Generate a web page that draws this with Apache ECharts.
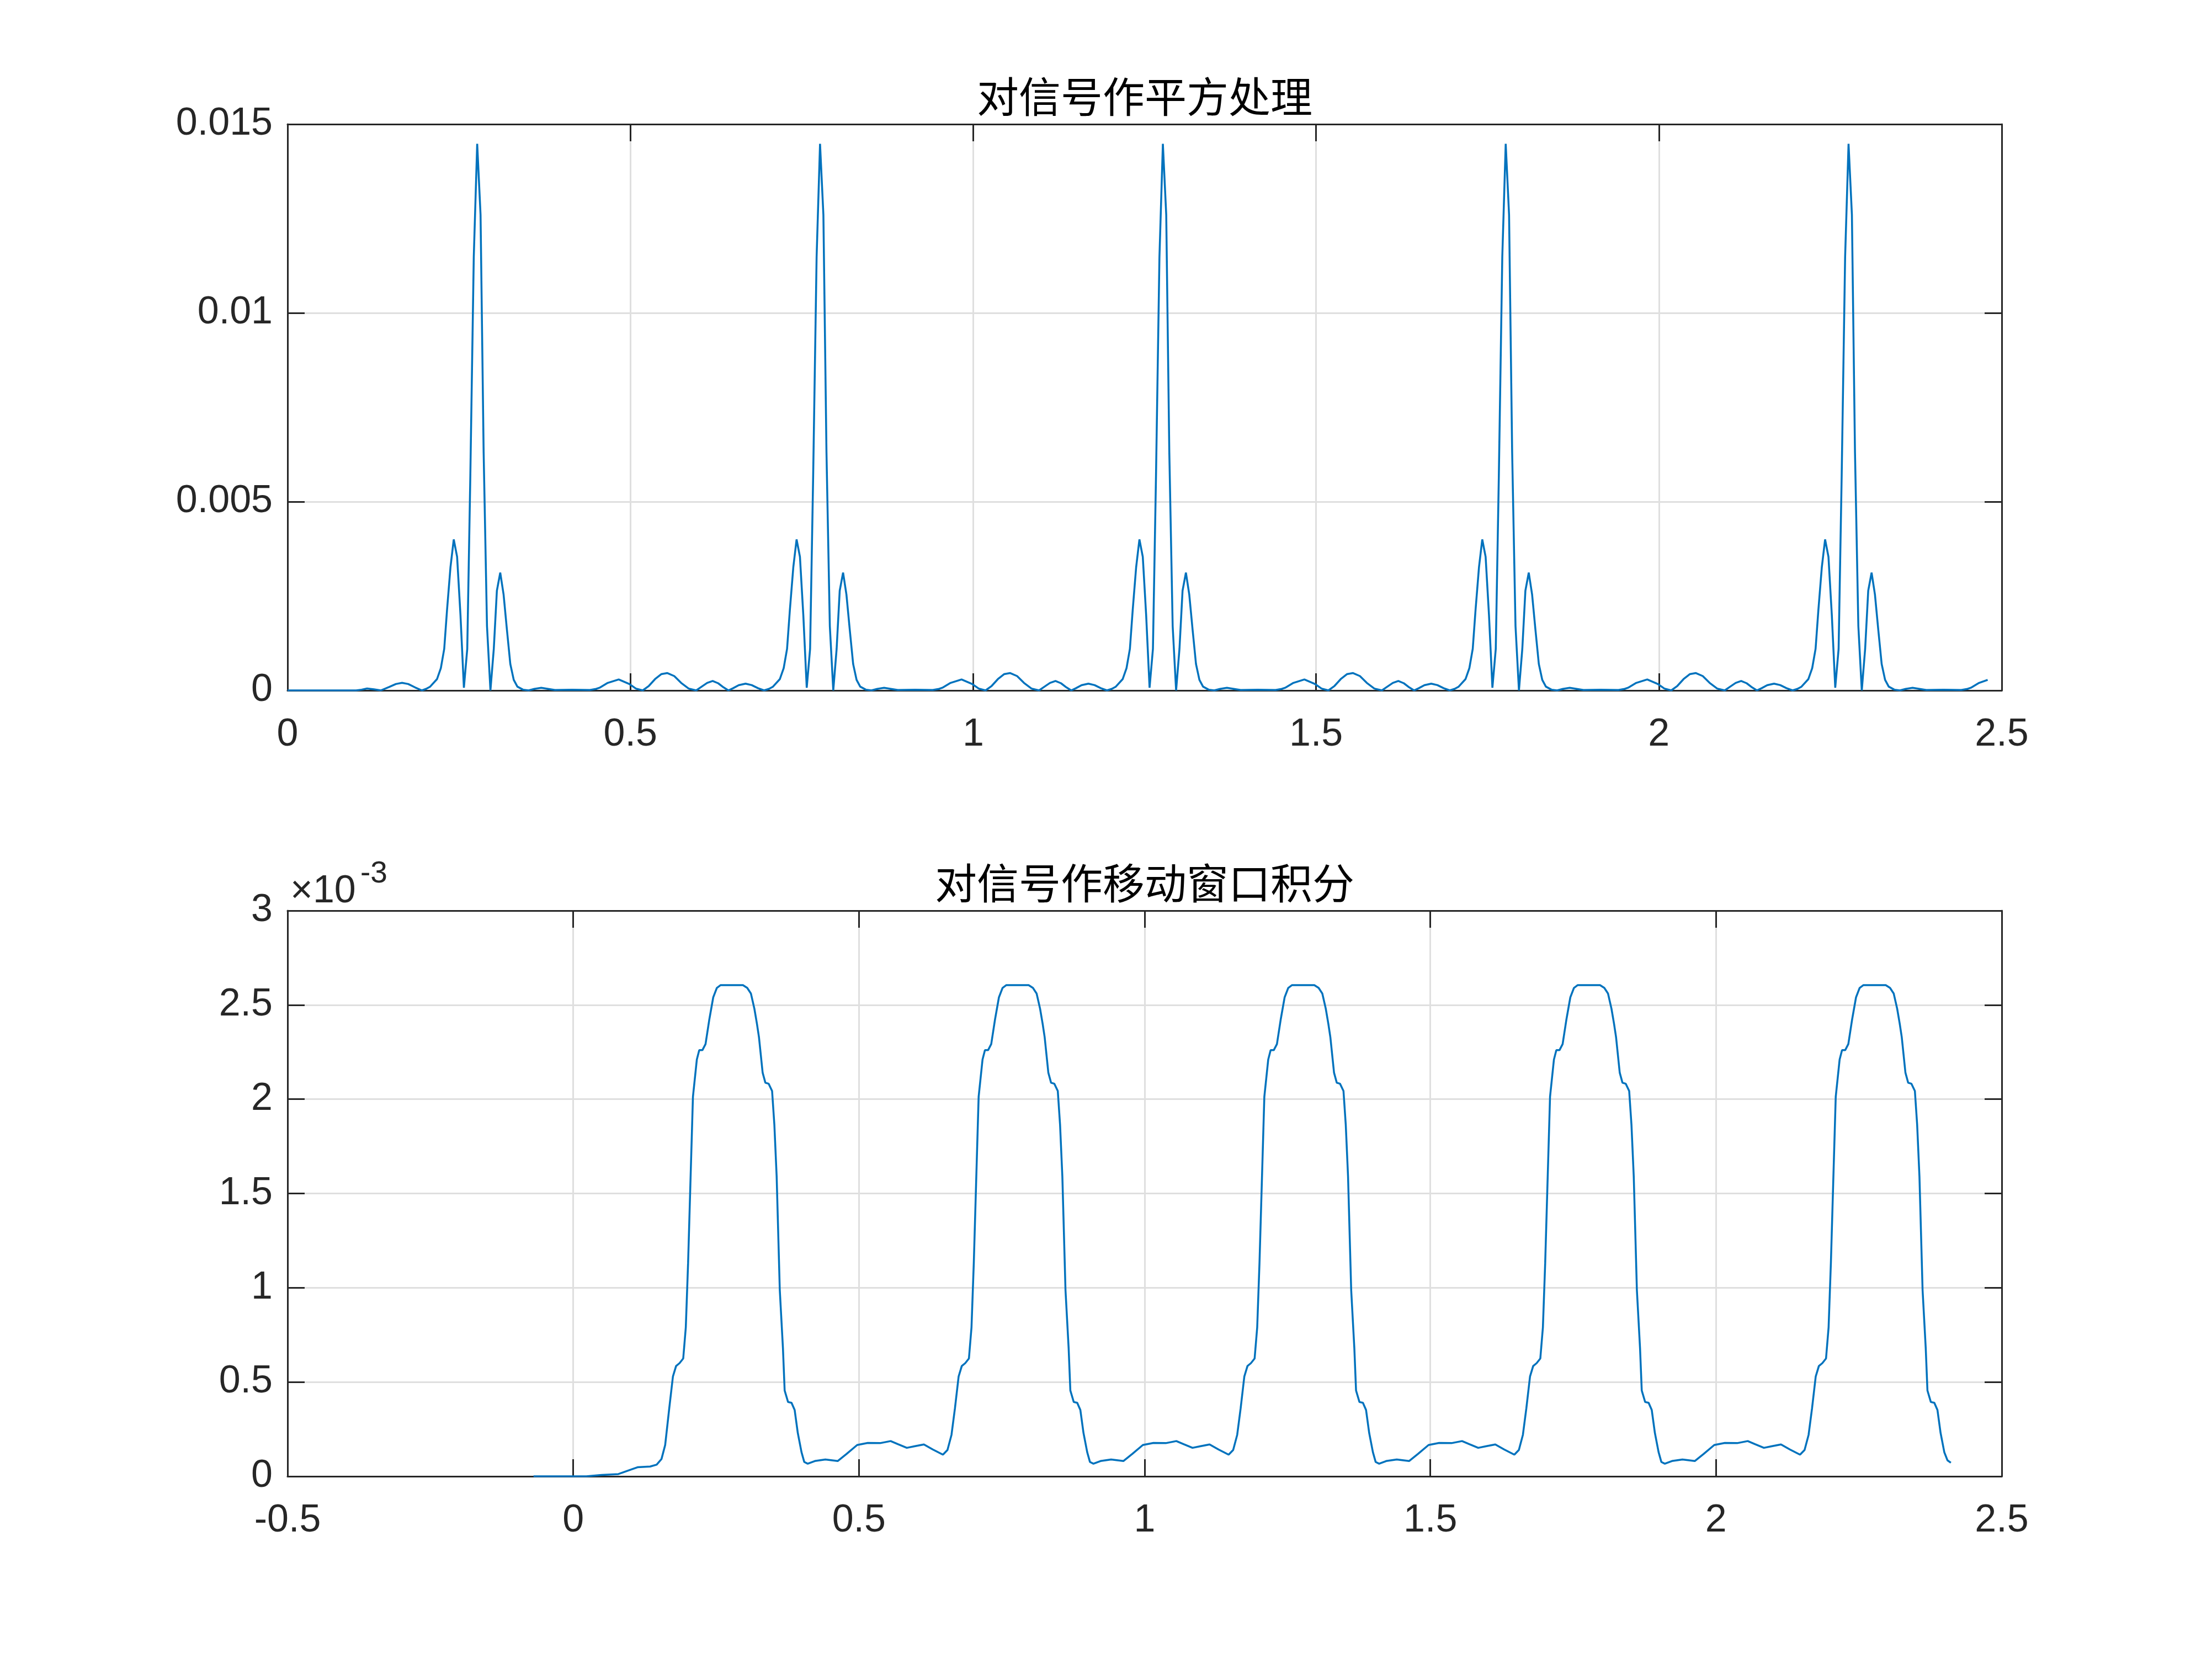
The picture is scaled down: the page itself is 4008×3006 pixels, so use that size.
<!DOCTYPE html>
<html>
<head>
<meta charset="utf-8">
<script src="https://cdn.jsdelivr.net/npm/echarts@6/dist/echarts.min.js"></script>
<style>html,body{margin:0;padding:0;background:#fff;}#chart{width:4008px;height:3006px;}</style>
</head>
<body>
<div id="chart"></div>
<script>
// ---------- data ----------
const titles = ['对信号作平方处理', '对信号作移动窗口积分'];
const topXLabels = ['0', '0.5', '1', '1.5', '2', '2.5'];
const topYLabels = ['0', '0.005', '0.01', '0.015'];
const bottomXLabels = ['-0.5', '0', '0.5', '1', '1.5', '2', '2.5'];
const bottomYLabels = ['0', '0.5', '1', '1.5', '2', '2.5', '3'];
const bottomScaleText = ['×10', '-3'];

// squared signal [time, value]
const squaredBeat1 = [[0,0],[0.1,0],[0.108,0.00002],[0.116,0.00005],[0.126,0.00003],[0.136,0],[0.148,0.00009],[0.158,0.00017],[0.167,0.0002],[0.176,0.00017],[0.186,0.00008],[0.196,0],
[0.202,0.00004],[0.208,0.0001],[0.218,0.0003],[0.2236,0.00059],[0.2285,0.0011],[0.2326,0.00213],[0.2376,0.00326],[0.2424,0.004],[0.2473,0.00354],[0.2522,0.002],[0.2572,0.00007],[0.2621,0.0011],[0.2666,0.0057],[0.2716,0.01148],[0.2766,0.01448],[0.2815,0.0126],[0.286,0.0063],[0.2909,0.0017],[0.2959,0],[0.3008,0.0011],[0.3053,0.00264],[0.3102,0.00312],[0.3151,0.00254],[0.32,0.0016],[0.3249,0.0007],[0.3299,0.00028],[0.3352,0.0001],[0.3434,0.00002],[0.3516,0],[0.36,0.00004],[0.37,0.00007],[0.38,0.00004],[0.39,0.00001],[0.415,0.00002]];
const squaredBeat2 = [[0.441,0.00001],[0.45,0.00004],[0.455,0.00007],[0.467,0.0002],[0.483,0.00029],[0.498,0.000175],[0.508,0.00005],[0.518,0],[0.527,0.00012],[0.536,0.0003],[0.545,0.00043],[0.554,0.00046],[0.564,0.00038],[0.574,0.0002],[0.585,0.00005],[0.596,0],[0.604,0.0001],[0.612,0.0002],[0.62,0.00025],[0.628,0.00019],[0.636,0.00008],[0.643,0],[0.65,0.00006],[0.658,0.00014],[0.668,0.00018],[0.677,0.00014],[0.686,0.00006],[0.695,0],
[0.702,0.00004],[0.708,0.0001],[0.718,0.0003],[0.7236,0.00059],[0.7285,0.0011],[0.7326,0.00213],[0.7376,0.00326],[0.7424,0.004],[0.7473,0.00354],[0.7522,0.002],[0.7572,0.00007],[0.7621,0.0011],[0.7666,0.0057],[0.7716,0.01148],[0.7766,0.01448],[0.7815,0.0126],[0.786,0.0063],[0.7909,0.0017],[0.7959,0],[0.8008,0.0011],[0.8053,0.00264],[0.8102,0.00312],[0.8151,0.00254],[0.82,0.0016],[0.8249,0.0007],[0.8299,0.00028],[0.8352,0.0001],[0.8434,0.00002],[0.8516,0],[0.86,0.00004],[0.87,0.00007],[0.88,0.00004],[0.89,0.00001],[0.915,0.00002]];
const squaredBeat3 = [[0.941,0.00001],[0.95,0.00004],[0.955,0.00007],[0.967,0.0002],[0.983,0.00029],[0.998,0.000175],[1.008,0.00005],[1.018,0],[1.027,0.00012],[1.036,0.0003],[1.045,0.00043],[1.054,0.00046],[1.064,0.00038],[1.074,0.0002],[1.085,0.00005],[1.096,0],[1.104,0.0001],[1.112,0.0002],[1.12,0.00025],[1.128,0.00019],[1.136,0.00008],[1.143,0],[1.15,0.00006],[1.158,0.00014],[1.168,0.00018],[1.177,0.00014],[1.186,0.00006],[1.195,0],
[1.202,0.00004],[1.208,0.0001],[1.218,0.0003],[1.2236,0.00059],[1.2285,0.0011],[1.2326,0.00213],[1.2376,0.00326],[1.2424,0.004],[1.2473,0.00354],[1.2522,0.002],[1.2572,0.00007],[1.2621,0.0011],[1.2666,0.0057],[1.2716,0.01148],[1.2766,0.01448],[1.2815,0.0126],[1.286,0.0063],[1.2909,0.0017],[1.2959,0],[1.3008,0.0011],[1.3053,0.00264],[1.3102,0.00312],[1.3151,0.00254],[1.32,0.0016],[1.3249,0.0007],[1.3299,0.00028],[1.3352,0.0001],[1.3434,0.00002],[1.3516,0],[1.36,0.00004],[1.37,0.00007],[1.38,0.00004],[1.39,0.00001],[1.415,0.00002]];
const squaredBeat4 = [[1.441,0.00001],[1.45,0.00004],[1.455,0.00007],[1.467,0.0002],[1.483,0.00029],[1.498,0.000175],[1.508,0.00005],[1.518,0],[1.527,0.00012],[1.536,0.0003],[1.545,0.00043],[1.554,0.00046],[1.564,0.00038],[1.574,0.0002],[1.585,0.00005],[1.596,0],[1.604,0.0001],[1.612,0.0002],[1.62,0.00025],[1.628,0.00019],[1.636,0.00008],[1.643,0],[1.65,0.00006],[1.658,0.00014],[1.668,0.00018],[1.677,0.00014],[1.686,0.00006],[1.695,0],
[1.702,0.00004],[1.708,0.0001],[1.718,0.0003],[1.7236,0.00059],[1.7285,0.0011],[1.7326,0.00213],[1.7376,0.00326],[1.7424,0.004],[1.7473,0.00354],[1.7522,0.002],[1.7572,0.00007],[1.7621,0.0011],[1.7666,0.0057],[1.7716,0.01148],[1.7766,0.01448],[1.7815,0.0126],[1.786,0.0063],[1.7909,0.0017],[1.7959,0],[1.8008,0.0011],[1.8053,0.00264],[1.8102,0.00312],[1.8151,0.00254],[1.82,0.0016],[1.8249,0.0007],[1.8299,0.00028],[1.8352,0.0001],[1.8434,0.00002],[1.8516,0],[1.86,0.00004],[1.87,0.00007],[1.88,0.00004],[1.89,0.00001],[1.915,0.00002]];
const squaredBeat5 = [[1.941,0.00001],[1.95,0.00004],[1.955,0.00007],[1.967,0.0002],[1.983,0.00029],[1.998,0.000175],[2.008,0.00005],[2.018,0],[2.027,0.00012],[2.036,0.0003],[2.045,0.00043],[2.054,0.00046],[2.064,0.00038],[2.074,0.0002],[2.085,0.00005],[2.096,0],[2.104,0.0001],[2.112,0.0002],[2.12,0.00025],[2.128,0.00019],[2.136,0.00008],[2.143,0],[2.15,0.00006],[2.158,0.00014],[2.168,0.00018],[2.177,0.00014],[2.186,0.00006],[2.195,0],
[2.202,0.00004],[2.208,0.0001],[2.218,0.0003],[2.2236,0.00059],[2.2285,0.0011],[2.2326,0.00213],[2.2376,0.00326],[2.2424,0.004],[2.2473,0.00354],[2.2522,0.002],[2.2572,0.00007],[2.2621,0.0011],[2.2666,0.0057],[2.2716,0.01148],[2.2766,0.01448],[2.2815,0.0126],[2.286,0.0063],[2.2909,0.0017],[2.2959,0],[2.3008,0.0011],[2.3053,0.00264],[2.3102,0.00312],[2.3151,0.00254],[2.32,0.0016],[2.3249,0.0007],[2.3299,0.00028],[2.3352,0.0001],[2.3434,0.00002],[2.3516,0],[2.36,0.00004],[2.37,0.00007],[2.38,0.00004],[2.39,0.00001],[2.415,0.00002],
[2.441,0.00001],[2.45,0.00004],[2.455,0.00007],[2.467,0.0002],[2.4795,0.00028]];

// moving-window integral [time, value in units of 1e-3]
const integratedBeat1 = [[-0.0695,0],[0,0],[0.023,0],[0.05,0.007],[0.079,0.012],[0.1014,0.036],[0.1125,0.048],[0.1346,0.052],[0.146,0.062],[0.1545,0.092],[0.1609,0.166],[0.168,0.36],[0.1745,0.53],
[0.18,0.585],[0.186,0.6],[0.1925,0.625],[0.197,0.79],[0.201,1.13],[0.205,1.547],[0.2095,2.013],[0.2163,2.21],[0.2205,2.26],[0.226,2.26],[0.2315,2.292],[0.238,2.42],[0.245,2.54],[0.2513,2.59],[0.258,2.605],[0.297,2.605],[0.3045,2.59],[0.311,2.56],[0.317,2.48],[0.3215,2.4],[0.325,2.33],[0.3315,2.14],[0.3363,2.087],[0.342,2.082],[0.348,2.044],[0.352,1.864],[0.356,1.59],[0.3615,0.987],[0.367,0.68],[0.37,0.455],[0.376,0.394],[0.382,0.39],[0.3875,0.352],[0.393,0.23],[0.3995,0.128]];
const integratedBeat2 = [[0.4043,0.076],[0.4104,0.067],[0.4228,0.081],[0.4413,0.089],[0.4628,0.081],[0.4784,0.119],[0.4969,0.166],[0.5154,0.177],[0.537,0.176],[0.5555,0.187],[0.568,0.171],[0.5838,0.151],[0.5987,0.16],[0.6137,0.169],[0.6295,0.142],[0.647,0.115],[0.655,0.14],[0.662,0.22],[0.668,0.36],[0.6745,0.53],
[0.68,0.585],[0.686,0.6],[0.6925,0.625],[0.697,0.79],[0.701,1.13],[0.705,1.547],[0.7095,2.013],[0.7163,2.21],[0.7205,2.26],[0.726,2.26],[0.7315,2.292],[0.738,2.42],[0.745,2.54],[0.7513,2.59],[0.758,2.605],[0.797,2.605],[0.8045,2.59],[0.811,2.56],[0.817,2.48],[0.8215,2.4],[0.825,2.33],[0.8315,2.14],[0.8363,2.087],[0.842,2.082],[0.848,2.044],[0.852,1.864],[0.856,1.59],[0.8615,0.987],[0.867,0.68],[0.87,0.455],[0.876,0.394],[0.882,0.39],[0.8875,0.352],[0.893,0.23],[0.8995,0.128]];
const integratedBeat3 = [[0.9043,0.076],[0.9104,0.067],[0.9228,0.081],[0.9413,0.089],[0.9628,0.081],[0.9784,0.119],[0.9969,0.166],[1.0154,0.177],[1.037,0.176],[1.0555,0.187],[1.068,0.171],[1.0838,0.151],[1.0987,0.16],[1.1137,0.169],[1.1295,0.142],[1.147,0.115],[1.155,0.14],[1.162,0.22],[1.168,0.36],[1.1745,0.53],
[1.18,0.585],[1.186,0.6],[1.1925,0.625],[1.197,0.79],[1.201,1.13],[1.205,1.547],[1.2095,2.013],[1.2163,2.21],[1.2205,2.26],[1.226,2.26],[1.2315,2.292],[1.238,2.42],[1.245,2.54],[1.2513,2.59],[1.258,2.605],[1.297,2.605],[1.3045,2.59],[1.311,2.56],[1.317,2.48],[1.3215,2.4],[1.325,2.33],[1.3315,2.14],[1.3363,2.087],[1.342,2.082],[1.348,2.044],[1.352,1.864],[1.356,1.59],[1.3615,0.987],[1.367,0.68],[1.37,0.455],[1.376,0.394],[1.382,0.39],[1.3875,0.352],[1.393,0.23],[1.3995,0.128]];
const integratedBeat4 = [[1.4043,0.076],[1.4104,0.067],[1.4228,0.081],[1.4413,0.089],[1.4628,0.081],[1.4784,0.119],[1.4969,0.166],[1.5154,0.177],[1.537,0.176],[1.5555,0.187],[1.568,0.171],[1.5838,0.151],[1.5987,0.16],[1.6137,0.169],[1.6295,0.142],[1.647,0.115],[1.655,0.14],[1.662,0.22],[1.668,0.36],[1.6745,0.53],
[1.68,0.585],[1.686,0.6],[1.6925,0.625],[1.697,0.79],[1.701,1.13],[1.705,1.547],[1.7095,2.013],[1.7163,2.21],[1.7205,2.26],[1.726,2.26],[1.7315,2.292],[1.738,2.42],[1.745,2.54],[1.7513,2.59],[1.758,2.605],[1.797,2.605],[1.8045,2.59],[1.811,2.56],[1.817,2.48],[1.8215,2.4],[1.825,2.33],[1.8315,2.14],[1.8363,2.087],[1.842,2.082],[1.848,2.044],[1.852,1.864],[1.856,1.59],[1.8615,0.987],[1.867,0.68],[1.87,0.455],[1.876,0.394],[1.882,0.39],[1.8875,0.352],[1.893,0.23],[1.8995,0.128]];
const integratedBeat5 = [[1.9043,0.076],[1.9104,0.067],[1.9228,0.081],[1.9413,0.089],[1.9628,0.081],[1.9784,0.119],[1.9969,0.166],[2.0154,0.177],[2.037,0.176],[2.0555,0.187],[2.068,0.171],[2.0838,0.151],[2.0987,0.16],[2.1137,0.169],[2.1295,0.142],[2.147,0.115],[2.155,0.14],[2.162,0.22],[2.168,0.36],[2.1745,0.53],
[2.18,0.585],[2.186,0.6],[2.1925,0.625],[2.197,0.79],[2.201,1.13],[2.205,1.547],[2.2095,2.013],[2.2163,2.21],[2.2205,2.26],[2.226,2.26],[2.2315,2.292],[2.238,2.42],[2.245,2.54],[2.2513,2.59],[2.258,2.605],[2.297,2.605],[2.3045,2.59],[2.311,2.56],[2.317,2.48],[2.3215,2.4],[2.325,2.33],[2.3315,2.14],[2.3363,2.087],[2.342,2.082],[2.348,2.044],[2.352,1.864],[2.356,1.59],[2.3615,0.987],[2.367,0.68],[2.37,0.455],[2.376,0.394],[2.382,0.39],[2.3875,0.352],[2.393,0.23],[2.3995,0.128],[2.405,0.085],[2.411,0.072]];

const squaredSignal = [].concat(squaredBeat1, squaredBeat2, squaredBeat3, squaredBeat4, squaredBeat5);
const integratedSignal = [].concat(integratedBeat1, integratedBeat2, integratedBeat3, integratedBeat4, integratedBeat5);

// ---------- styling ----------
const AXIS = '#262626';
const GRIDC = '#dfdfdf';
const LINE = '#0072BD';
const FONT = '"Liberation Sans", Arial, Helvetica, sans-serif';
const CJK = '"Noto Sans CJK SC", sans-serif';
const LBL = 70;

function mainAxis(grid, pos, min, max, interval, labels, isX) {
  return {
    type: 'value', gridIndex: grid, position: pos, min: min, max: max, interval: interval,
    axisLine: { show: true, onZero: false, lineStyle: { color: AXIS, width: 3 } },
    axisTick: { show: true, inside: true, length: 31, lineStyle: { color: AXIS, width: 3 } },
    axisLabel: { show: true, color: AXIS, fontSize: LBL, fontFamily: FONT, margin: isX ? 46 : 27,
      padding: isX ? 0 : [16, 0, 0, 0],
      formatter: function (v, i) { return labels[i]; } },
    splitLine: { show: true, lineStyle: { color: GRIDC, width: 3 } },
    z: 3
  };
}
function mirrorAxis(grid, pos, min, max, interval) {
  return {
    type: 'value', gridIndex: grid, position: pos, min: min, max: max, interval: interval,
    axisLine: { show: true, onZero: false, lineStyle: { color: AXIS, width: 3 } },
    axisTick: { show: true, inside: true, length: 31, lineStyle: { color: AXIS, width: 3 } },
    axisLabel: { show: false },
    splitLine: { show: false },
    z: 3
  };
}

const chart = echarts.init(document.getElementById('chart'), null, { renderer: 'canvas' });
chart.setOption({
  animation: false,
  backgroundColor: '#ffffff',
  grid: [
    { left: 521, top: 225, width: 3106, height: 1026, containLabel: false },
    { left: 521, top: 1650, width: 3106, height: 1025, containLabel: false }
  ],
  xAxis: [
    mainAxis(0, 'bottom', 0, 2.5, 0.5, topXLabels, true),
    mirrorAxis(0, 'top', 0, 2.5, 0.5),
    mainAxis(1, 'bottom', -0.5, 2.5, 0.5, bottomXLabels, true),
    mirrorAxis(1, 'top', -0.5, 2.5, 0.5)
  ],
  yAxis: [
    mainAxis(0, 'left', 0, 0.015, 0.005, topYLabels, false),
    mirrorAxis(0, 'right', 0, 0.015, 0.005),
    mainAxis(1, 'left', 0, 3, 0.5, bottomYLabels, false),
    mirrorAxis(1, 'right', 0, 3, 0.5)
  ],
  series: [
    { type: 'line', xAxisIndex: 0, yAxisIndex: 0, data: squaredSignal, showSymbol: false, symbol: 'none',
      lineStyle: { color: LINE, width: 3.5 }, z: 5, clip: true },
    { type: 'line', xAxisIndex: 2, yAxisIndex: 2, data: integratedSignal, showSymbol: false, symbol: 'none',
      lineStyle: { color: LINE, width: 3.5 }, z: 5, clip: true }
  ],
  graphic: [
    { type: 'text', style: { x: 2074, y: 175, text: titles[0], fill: '#000000', font: '76px ' + CJK, textAlign: 'center', textVerticalAlign: 'middle', verticalAlign: 'middle' } },
    { type: 'text', style: { x: 2074, y: 1600, text: titles[1], fill: '#000000', font: '76px ' + CJK, textAlign: 'center', textVerticalAlign: 'middle', verticalAlign: 'middle' } },
    { type: 'text', style: { x: 526, y: 1616, text: bottomScaleText[0], fill: AXIS, font: '70px ' + FONT, textAlign: 'left', textVerticalAlign: 'middle', verticalAlign: 'middle' } },
    { type: 'text', style: { x: 653, y: 1584, text: bottomScaleText[1], fill: AXIS, font: '55px ' + FONT, textAlign: 'left', textVerticalAlign: 'middle', verticalAlign: 'middle' } }
  ]
});
</script>
</body>
</html>
